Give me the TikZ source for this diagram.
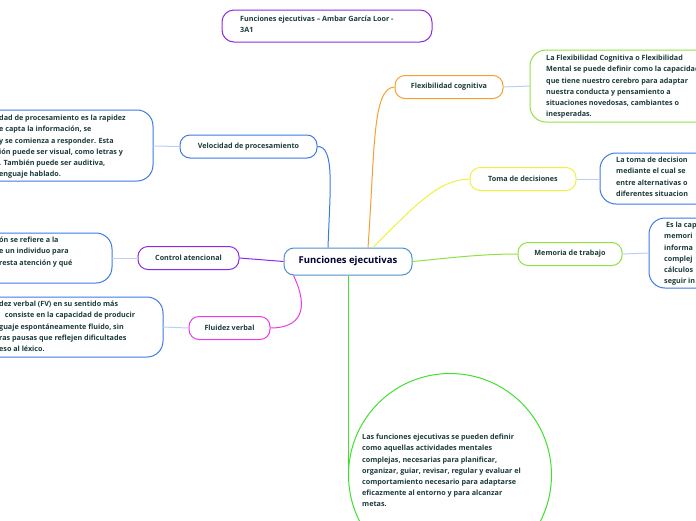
\documentclass[tikz,border=0pt]{standalone}
\usepackage{fontspec}
\setmainfont{Open Sans}
\begin{document}
\begin{tikzpicture}[x=1pt,y=-1pt,
  every node/.style={font=\bfseries\fontsize{7.2}{11.2}\selectfont, text=txt},
  topic/.style={draw, line width=1pt, rounded corners=10pt, minimum height=23pt, inner xsep=8pt},
  desc/.style={draw, line width=1pt, rounded corners=16pt},
  ftxt/.style={align=left, anchor=north west, inner sep=0pt},
  conn/.style={line width=1pt}]
\definecolor{txt}{HTML}{1B3A3A}
\definecolor{cblue}{HTML}{3C78E6}
\definecolor{lblue}{HTML}{B8D0F5}
\definecolor{cpurp}{HTML}{8A2BE2}
\definecolor{corange}{HTML}{F5A030}
\definecolor{cyellow}{HTML}{F0F040}
\definecolor{cgreen}{HTML}{90E040}
\definecolor{cmag}{HTML}{E83CE8}
\definecolor{cbrgreen}{HTML}{40E030}
\definecolor{cent}{HTML}{4A90D0}
\useasboundingbox (0,0) rectangle (696,520);
\clip (0,0) rectangle (696,520);
% title
\node[draw=cpurp, line width=1pt, rounded corners=12pt, minimum width=210pt, minimum height=32pt] (title) at (327,26) {};
\node[ftxt] (titlet) at (240,16) {Funciones ejecutivas – Ambar García Loor -\\3A1};
% central
\node[draw=cent, line width=1pt, rounded corners=10pt, minimum width=128pt, minimum height=27pt, font=\bfseries\fontsize{9.5}{11}\selectfont, text=black!80!blue] (c) at (348,261.5) {Funciones ejecutivas};
% topics
\node[topic, draw=corange, minimum width=108pt] (flex) at (449,87) {Flexibilidad cognitiva};
\node[topic, draw=cyellow, minimum width=106pt] (toma) at (523,179) {Toma de decisiones};
\node[topic, draw=cgreen, minimum width=104pt] (mem) at (570,254) {Memoria de trabajo};
\node[topic, draw=cblue, minimum width=137pt] (vel) at (248.5,146.5) {Velocidad de procesamiento};
\node[topic, draw=cpurp, minimum width=101pt] (ctrl) at (188.5,258) {Control atencional};
\node[topic, draw=cmag, minimum width=81pt] (flu) at (229.5,328) {Fluidez verbal};
% description boxes
\draw[desc, draw=cgreen] (740,50) -- (530,50) -- (530,122) -- (740,122);
\coordinate (flexd) at (530,86);
\node[ftxt] (flext) at (546,55) {La Flexibilidad Cognitiva o Flexibilidad\\Mental se puede definir como la capacidad\\que tiene nuestro cerebro para adaptar\\nuestra conducta y pensamiento a\\situaciones novedosas, cambiantes o\\inesperadas.};
\draw[desc, draw=cblue] (740,153) -- (600,153) -- (600,204) -- (740,204);
\coordinate (tomad) at (600,179);
\node[ftxt] (tomat) at (616,157) {La toma de decision\\mediante el cual se\\entre alternativas o\\diferentes situacion};
\draw[desc, draw=cblue] (740,218) -- (649,218) -- (649,288) -- (740,288);
\coordinate (memd) at (649,253);
\node[ftxt] (memt) at (664,222) {\ Es la cap\\memori\\informa\\complej\\cálculos\\seguir in};
\draw[desc, draw=cblue] (-40,110) -- (153,110) -- (153,181) -- (-40,181);
\coordinate (veld) at (153,146);
\node[ftxt] (velt) at (-1,115) {dad de procesamiento es la rapidez\\e capta la información, se\\y se comienza a responder. Esta\\ión puede ser visual, como letras y\\. También puede ser auditiva,\\enguaje hablado.};
\draw[desc, draw=cblue] (-40,233) -- (112,233) -- (112,283) -- (-40,283);
\coordinate (ctrld) at (112,258);
\node[ftxt] (ctrlt) at (-1,237) {ón se refiere a la\\e un individuo para\\resta atención y qué};
\draw[desc, draw=cblue] (-40,297) -- (163,297) -- (163,357) -- (-40,357);
\coordinate (flud) at (163,327);
\node[ftxt] (flut) at (-1,301) {dez verbal (FV) en su sentido más\\\ \ \ consiste en la capacidad de producir\\guaje espontáneamente fluido, sin\\ras pausas que reflejen dificultades\\eso al léxico.};
% circle
\node[draw=cbrgreen, line width=1pt, circle, minimum size=203pt] (circ) at (450,475) {};
\node[ftxt] (circt) at (362,434) {Las funciones ejecutivas se pueden definir\\como aquellas actividades mentales\\complejas, necesarias para planificar,\\organizar, guiar, revisar, regular y evaluar el\\comportamiento necesario para adaptarse\\eficazmente al entorno y para alcanzar\\metas.};
% connectors
\draw[conn, corange] (c.north) ++(20,0) .. controls (375,150) and (372,88) .. (flex.west);
\draw[conn, cyellow] (c.north) ++(25,0) .. controls (420,200) and (440,180) .. (toma.west);
\draw[conn, cgreen] (c.east) .. controls (450,258) and (480,254) .. (mem.west);
\draw[conn, cblue] (c.north) ++(-20,0) .. controls (330,190) and (335,146) .. (vel.east);
\draw[conn, cpurp] (c.west) -- (ctrl.east);
\draw[conn, cmag] (c.south west) ++(10,0) .. controls (310,310) and (300,328) .. (flu.east);
\draw[conn, cbrgreen] (c.south) -- (348,475) -- (circ.west);
\draw[conn, lblue] (flex.east) -- (flexd);
\draw[conn, lblue] (toma.east) -- (tomad);
\draw[conn, lblue] (mem.east) -- (memd);
\draw[conn, lblue] (vel.west) -- (veld);
\draw[conn, lblue] (ctrl.west) -- (ctrld);
\draw[conn, lblue] (flu.west) -- (flud);
\end{tikzpicture}
\end{document}
